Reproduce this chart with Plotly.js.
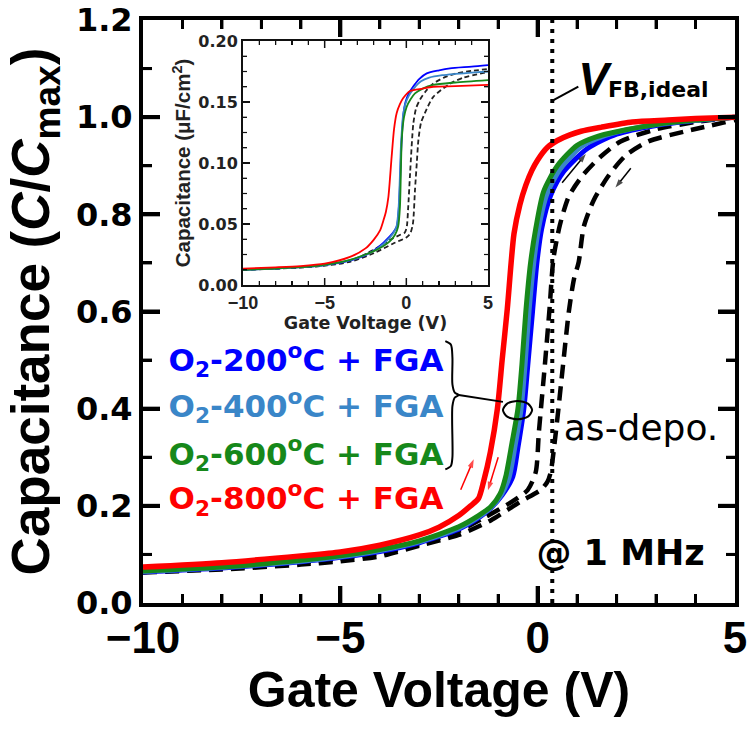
<!DOCTYPE html>
<html>
<head>
<meta charset="utf-8">
<script src="https://cdn.plot.ly/plotly-3.0.1.min.js"></script>
<style>html,body{margin:0;padding:0;background:#fff;}#chart{width:750px;height:730px;}</style>
</head>
<body>
<div id="chart"></div>
<script>
// ---- Main panel: normalized C/Cmax vs gate voltage ----
const x800 = [-10, -8, -6, -5, -4, -3, -2.5, -2, -1.7, -1.5, -1.37, -1.2, -1.02, -0.9, -0.77, -0.6, -0.45, -0.3, -0.15, 0, 0.25, 0.5, 0.8, 1.1, 1.6, 2.4, 3.3, 4, 5];
const c800 = [0.074, 0.083, 0.097, 0.105, 0.119, 0.140, 0.156, 0.180, 0.200, 0.215, 0.250, 0.310, 0.400, 0.500, 0.605, 0.760, 0.820, 0.860, 0.890, 0.912, 0.938, 0.952, 0.963, 0.971, 0.979, 0.990, 0.994, 0.997, 1.0];

const x600 = [-10, -8, -6, -5, -4, -3, -2, -1.5, -1.19, -0.95, -0.81, -0.65, -0.5, -0.4, -0.3, -0.18, -0.05, 0.15, 0.5, 1.0, 1.5, 2.0, 3.0, 4.0, 5];
const c600 = [0.066, 0.074, 0.088, 0.097, 0.110, 0.128, 0.157, 0.180, 0.198, 0.225, 0.260, 0.330, 0.400, 0.490, 0.600, 0.700, 0.770, 0.847, 0.900, 0.942, 0.960, 0.970, 0.985, 0.994, 1.0];

const x400 = [-10, -8, -6, -5, -4, -3, -2, -1.5, -1.19, -0.92, -0.72, -0.57, -0.42, -0.32, -0.22, -0.1, 0.02, 0.24, 0.58, 1.1, 1.7, 2.5, 3.5, 5];
const c400 = [0.065, 0.073, 0.086, 0.095, 0.108, 0.126, 0.154, 0.177, 0.196, 0.223, 0.260, 0.325, 0.400, 0.490, 0.600, 0.700, 0.770, 0.843, 0.894, 0.939, 0.962, 0.978, 0.990, 1.0];

const x200 = [-10, -8, -6, -5, -4, -3, -2, -1.5, -1.19, -0.9, -0.63, -0.5, -0.35, -0.25, -0.13, -0.02, 0.1, 0.33, 0.66, 1.27, 2.0, 3.0, 4.0, 5];
const c200 = [0.064, 0.072, 0.085, 0.094, 0.106, 0.124, 0.152, 0.175, 0.195, 0.222, 0.260, 0.320, 0.400, 0.490, 0.600, 0.700, 0.770, 0.839, 0.888, 0.936, 0.965, 0.983, 0.993, 1.0];

const xDepoFwd = [-10, -8, -6, -5, -4, -3, -2, -1.37, -0.68, -0.25, -0.05, 0.03, 0.18, 0.3, 0.4, 0.56, 0.79, 1.14, 1.6, 2.1, 3.0, 4.0, 5];
const cDepoFwd = [0.064, 0.071, 0.083, 0.091, 0.102, 0.121, 0.148, 0.175, 0.207, 0.233, 0.269, 0.351, 0.488, 0.605, 0.709, 0.777, 0.837, 0.880, 0.919, 0.950, 0.975, 0.990, 1.0];

const xDepoRev = [-10, -8, -6, -5, -4, -3, -2, -1.19, -0.43, 0.08, 0.25, 0.33, 0.46, 0.64, 0.79, 0.92, 1.04, 1.17, 1.42, 1.8, 2.23, 2.8, 3.7, 5];
const cDepoRev = [0.063, 0.069, 0.079, 0.086, 0.096, 0.118, 0.140, 0.170, 0.209, 0.233, 0.250, 0.269, 0.351, 0.488, 0.600, 0.667, 0.702, 0.775, 0.829, 0.880, 0.921, 0.950, 0.970, 0.994];

const vfbIdeal = 0.37;

// ---- Inset: capacitance (uF/cm2) vs gate voltage ----
const xi800 = [-10, -8, -6.5, -5, -3.45, -2.5, -2.0, -1.6, -1.4, -1.25, -1.1, -0.9, -0.75, -0.59, -0.4, -0.2, 0.23, 1.0, 1.64, 3.0, 5];
const ci800 = [0.0135, 0.0145, 0.0155, 0.0175, 0.023, 0.030, 0.037, 0.045, 0.053, 0.060, 0.072, 0.105, 0.128, 0.141, 0.148, 0.153, 0.159, 0.161, 0.1625, 0.163, 0.164];

const xi600 = [-10, -8, -6, -5, -3.45, -2.5, -1.8, -1.4, -1.0, -0.7, -0.5, -0.39, -0.28, -0.15, 0.02, 0.25, 0.53, 1.0, 1.64, 3, 5];
const ci600 = [0.0125, 0.0135, 0.0150, 0.0165, 0.0205, 0.025, 0.029, 0.032, 0.036, 0.041, 0.048, 0.064, 0.119, 0.137, 0.146, 0.152, 0.157, 0.161, 0.164, 0.166, 0.168];

const xi400 = [-10, -8, -6, -5, -3.45, -2.5, -1.8, -1.0, -0.62, -0.47, -0.33, -0.2, -0.07, 0.15, 0.45, 0.9, 1.4, 2.2, 3, 4, 5];
const ci400 = [0.0125, 0.0135, 0.015, 0.0164, 0.0203, 0.0247, 0.0295, 0.039, 0.047, 0.064, 0.114, 0.139, 0.148, 0.155, 0.161, 0.167, 0.170, 0.172, 0.173, 0.174, 0.175];

const xi200 = [-10, -8, -6, -5, -3.45, -2.5, -1.81, -1.0, -0.59, -0.45, -0.3, -0.18, -0.05, 0.15, 0.41, 0.8, 1.25, 2.0, 2.67, 4, 5];
const ci200 = [0.0125, 0.0135, 0.015, 0.0163, 0.020, 0.0245, 0.030, 0.040, 0.048, 0.065, 0.115, 0.140, 0.150, 0.157, 0.1625, 0.169, 0.1735, 0.176, 0.1776, 0.179, 0.1803];

const xiDepoFwd = [-10, -8, -6, -5, -3.45, -2.02, -1.0, -0.4, -0.1, 0.02, 0.12, 0.23, 0.43, 0.6, 0.84, 1.2, 1.64, 2.3, 3.08, 4, 5];
const ciDepoFwd = [0.0125, 0.0135, 0.015, 0.0162, 0.0198, 0.0287, 0.037, 0.041, 0.043, 0.047, 0.065, 0.0915, 0.1325, 0.145, 0.152, 0.159, 0.165, 0.170, 0.1735, 0.1755, 0.177];

const xiDepoRev = [-10, -8, -6, -5, -3.45, -2.0, -0.8, 0.0, 0.23, 0.4, 0.53, 0.64, 0.74, 0.9, 1.14, 1.64, 2.67, 3.5, 5];
const ciDepoRev = [0.0125, 0.0133, 0.0147, 0.0158, 0.019, 0.026, 0.034, 0.039, 0.042, 0.050, 0.078, 0.10, 0.119, 0.133, 0.141, 0.154, 0.165, 0.170, 0.1745];

// ---- Tick values ----
const mainXMajor = [-5, 0];
const mainXMinor = [-9, -8, -7, -6, -4, -3, -2, -1, 1, 2, 3, 4];
const mainYMajor = [0.2, 0.4, 0.6, 0.8, 1.0];
const mainYMinor = [0.1, 0.3, 0.5, 0.7, 0.9, 1.1];
const insetXMajor = [-5, 0];
const insetXMinor = [-9, -8, -7, -6, -4, -3, -2, -1, 1, 2, 3, 4];
const insetYMajor = [0.05, 0.10, 0.15];
const insetYMinor = [0.0125, 0.025, 0.0375, 0.0625, 0.075, 0.0875, 0.1125, 0.125, 0.1375, 0.1625, 0.175, 0.1875];

// ---- Labels ----
const seriesLabels = [
  "O<sub>2</sub>-200<sup>o</sup>C + FGA",
  "O<sub>2</sub>-400<sup>o</sup>C + FGA",
  "O<sub>2</sub>-600<sup>o</sup>C + FGA",
  "O<sub>2</sub>-800<sup>o</sup>C + FGA"
];
const seriesColors = ["#0000ff", "#3a86c8", "#16881a", "#ff0000"];
const labelX = -5.87;
const labelY = [0.494, 0.399, 0.301, 0.209];

const xTitle = "Gate Voltage (V)";
const yTitle = "Capacitance (<i>C</i>/<i>C</i><sub>max</sub>)";
const insetXTitle = "Gate Voltage (V)";
const insetYTitle = "Capacitance (μF/cm<sup>2</sup>)";

const BLUE = seriesColors[0], STEEL = seriesColors[1], GREEN = seriesColors[2], RED = seriesColors[3];
const sm = 0.7;

const boldArial = (size, color) => ({family: 'Liberation Sans, Arial, sans-serif', size: size, color: color || '#000', weight: 700});
const boldDejaVu = (size, color) => ({family: 'DejaVu Sans, sans-serif', size: size, color: color || '#000', weight: 700});

function line(x, y, color, width, dash, xa, ya) {
  return {x: x, y: y, type: 'scatter', mode: 'lines', xaxis: xa, yaxis: ya,
    line: {color: color, width: width, dash: dash || 'solid', shape: 'spline', smoothing: sm}};
}
function text(x, y, t, font, pos) {
  return {x: [x], y: [y], text: [t], type: 'scatter', mode: 'text', textposition: pos || 'middle center',
    textfont: font, cliponaxis: false, xaxis: 'x', yaxis: 'y'};
}
function arrow(x0, y0, x1, y1, color) {
  return {x: [x0, x1], y: [y0, y1], type: 'scatter', mode: 'lines+markers', cliponaxis: false,
    line: {color: color, width: 1.5},
    marker: {symbol: 'arrow', angleref: 'previous', size: [0, 9], color: color, line: {width: 0}}};
}
function deco(x, y, shape) {
  return {x: x, y: y, type: 'scatter', mode: 'lines', cliponaxis: false,
    line: {color: '#000', width: 2, shape: shape || 'linear', smoothing: 0.8}};
}
// inward tick marks on all four sides, as line shapes (lengths in px converted through the axis scale)
function tickShapes(xref, yref, xr, yr, pxW, pxH, xVals, yVals, lenPx, width, color) {
  const out = [];
  const dy = lenPx * (yr[1] - yr[0]) / pxH, dx = lenPx * (xr[1] - xr[0]) / pxW;
  const ln = {color: color, width: width};
  xVals.forEach(v => {
    out.push({type: 'line', xref: xref, yref: yref, x0: v, x1: v, y0: yr[0], y1: yr[0] + dy, line: ln});
    out.push({type: 'line', xref: xref, yref: yref, x0: v, x1: v, y0: yr[1], y1: yr[1] - dy, line: ln});
  });
  yVals.forEach(v => {
    out.push({type: 'line', xref: xref, yref: yref, x0: xr[0], x1: xr[0] + dx, y0: v, y1: v, line: ln});
    out.push({type: 'line', xref: xref, yref: yref, x0: xr[1], x1: xr[1] - dx, y0: v, y1: v, line: ln});
  });
  return out;
}

const MX = [-10, 5], MY = [0, 1.2], IX = [-10, 5], IY = [0, 0.2];
const shapes = [].concat(
  tickShapes('x', 'y', MX, MY, 592, 583, mainXMajor, mainYMajor, 17, 4, '#000'),
  tickShapes('x', 'y', MX, MY, 592, 583, mainXMinor, mainYMinor, 9, 3, '#000'),
  tickShapes('x2', 'y2', IX, IY, 245, 244, insetXMajor, insetYMajor, 7, 1.5, '#111'),
  tickShapes('x2', 'y2', IX, IY, 245, 244, insetXMinor, insetYMinor, 4, 1.2, '#111')
);

const traces = [
  line(xDepoFwd, cDepoFwd, '#000', 4.5, '14px,8px', 'x', 'y'),
  line(xDepoRev, cDepoRev, '#000', 4.5, '14px,8px', 'x', 'y'),
  line(x200, c200, BLUE, 5, 'solid', 'x', 'y'),
  line(x400, c400, STEEL, 5, 'solid', 'x', 'y'),
  line(x600, c600, GREEN, 5, 'solid', 'x', 'y'),
  line(x800, c800, RED, 5.5, 'solid', 'x', 'y'),
  {x: [vfbIdeal, vfbIdeal], y: [0, 1.2], type: 'scatter', mode: 'lines', xaxis: 'x', yaxis: 'y',
   line: {color: '#000', width: 4, dash: '4px,6px'}},
  line(xiDepoFwd, ciDepoFwd, '#222', 1.8, '5px,3px', 'x2', 'y2'),
  line(xiDepoRev, ciDepoRev, '#222', 1.8, '5px,3px', 'x2', 'y2'),
  line(xi200, ci200, BLUE, 1.8, 'solid', 'x2', 'y2'),
  line(xi400, ci400, STEEL, 1.8, 'solid', 'x2', 'y2'),
  line(xi600, ci600, GREEN, 1.8, 'solid', 'x2', 'y2'),
  line(xi800, ci800, RED, 1.8, 'solid', 'x2', 'y2'),
  deco([-2.34, -2.2, -2.16, -2.16, -2.1, -2.0, -2.1, -2.16, -2.16, -2.2, -2.34],
       [0.539, 0.532, 0.505, 0.45, 0.433, 0.428, 0.423, 0.405, 0.30, 0.282, 0.275], 'spline'),
  deco([-2.0, -0.88], [0.428, 0.414]),
  deco([-0.14, -0.248, -0.51, -0.772, -0.88, -0.772, -0.51, -0.248, -0.14],
       [0.397, 0.4104, 0.416, 0.4104, 0.397, 0.3836, 0.378, 0.3836, 0.397], 'spline'),
  deco([0.4, 1.03], [1.035, 1.063]),
  arrow(-1.95, 0.233, -1.62, 0.296, RED),
  arrow(-1.0, 0.30, -1.26, 0.232, RED),
  arrow(0.62, 0.865, 1.22, 0.924, '#000'),
  arrow(2.36, 0.895, 1.97, 0.855, '#000'),
  text(labelX, labelY[0], seriesLabels[0], boldDejaVu(31, BLUE)),
  text(labelX, labelY[1], seriesLabels[1], boldDejaVu(31, STEEL)),
  text(labelX, labelY[2], seriesLabels[2], boldDejaVu(31, GREEN)),
  text(labelX, labelY[3], seriesLabels[3], boldDejaVu(31, RED)),
  text(2.62, 0.355, 'as-depo.', {family: 'DejaVu Sans, sans-serif', size: 36, color: '#000'}),
  text(2.1, 0.097, '@ 1 MHz', boldDejaVu(35)),
  text(1.42, 1.07, '<i>V</i>', boldArial(46)),
  text(1.78, 1.052, 'FB,ideal', boldDejaVu(22), 'middle right')
];

const layout = {
  width: 750, height: 730,
  margin: {l: 143, r: 15, t: 20, b: 127},
  paper_bgcolor: '#fff', plot_bgcolor: 'rgba(0,0,0,0)',
  showlegend: false,
  xaxis: {domain: [0, 1], anchor: 'y', range: MX, dtick: 5,
    showline: true, linecolor: '#000', linewidth: 4, mirror: 'ticks',
    ticks: 'inside', ticklen: 17, tickwidth: 4, tickcolor: '#000',
    minor: {ticks: 'inside', ticklen: 9, tickwidth: 3, dtick: 1, tickcolor: '#000'},
    showgrid: false, zeroline: false, tickfont: boldArial(44), ticklabelstandoff: -7,
    title: {text: xTitle, font: boldArial(50), standoff: 10}},
  yaxis: {domain: [0, 1], anchor: 'x', range: MY, dtick: 0.2, tickformat: '.1f',
    showline: true, linecolor: '#000', linewidth: 4, mirror: 'ticks',
    ticks: 'inside', ticklen: 17, tickwidth: 4, tickcolor: '#000',
    minor: {ticks: 'inside', ticklen: 9, tickwidth: 3, dtick: 0.1, tickcolor: '#000'},
    showgrid: false, zeroline: false, tickfont: boldDejaVu(32),
    title: {text: yTitle, font: boldArial(53), standoff: 10}},
  xaxis2: {domain: [(243 - 143) / 592, (488 - 143) / 592], anchor: 'y2', range: IX, dtick: 5,
    showline: true, linecolor: '#111', linewidth: 2, mirror: 'ticks',
    ticks: 'inside', ticklen: 7, tickwidth: 1.5, tickcolor: '#111',
    minor: {ticks: 'inside', ticklen: 4, tickwidth: 1.2, dtick: 1, tickcolor: '#111'},
    showgrid: false, zeroline: false, tickfont: boldArial(18, '#222'),
    title: {text: insetXTitle, font: boldDejaVu(17.5, '#222'), standoff: 3}},
  yaxis2: {domain: [(603 - 285) / 583, (603 - 41) / 583], anchor: 'x2', range: IY, dtick: 0.05, tickformat: '.2f',
    showline: true, linecolor: '#111', linewidth: 2, mirror: 'ticks',
    ticks: 'inside', ticklen: 7, tickwidth: 1.5, tickcolor: '#111',
    minor: {ticks: 'inside', ticklen: 4, tickwidth: 1.2, dtick: 0.0125, tickcolor: '#111'},
    showgrid: false, zeroline: false, tickfont: boldDejaVu(16, '#222'),
    title: {text: insetYTitle, font: boldArial(20.5, '#222'), standoff: 2}},
  shapes: shapes
};

Plotly.newPlot('chart', traces, layout, {staticPlot: true, displayModeBar: false});
</script>
</body>
</html>
